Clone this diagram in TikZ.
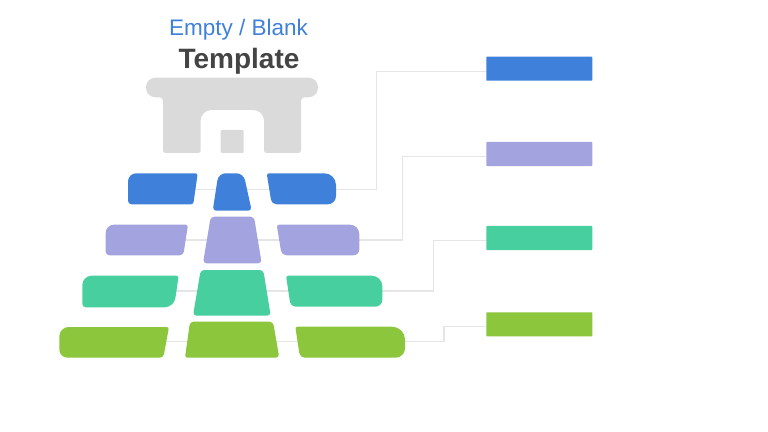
\documentclass[tikz,border=0pt]{standalone}
\usepackage{fontspec}
\setmainfont{Liberation Sans}
\definecolor{stepblue}{HTML}{3F80DB}
\definecolor{steppurple}{HTML}{A3A3DF}
\definecolor{stepteal}{HTML}{48CF9F}
\definecolor{steplime}{HTML}{8CC63C}
\definecolor{templegray}{HTML}{DADADA}
\definecolor{wiregray}{HTML}{E5E5E5}
\definecolor{titlegray}{HTML}{444444}
\tikzset{
  legendbar/.style={minimum width=90.4pt,minimum height=20.5pt,inner sep=0pt,rounded corners=0.5pt},
  wire/.style={draw=wiregray,line width=1pt}
}
\begin{document}
\begin{tikzpicture}[x=0.03cm,y=-0.03cm]
  \useasboundingbox (0,0) rectangle (768,432);
  \node (subtitle) at (238.5,29.5) {\color{stepblue}\fontsize{19.2}{23}\selectfont Empty / Blank};
  \node (title) at (239,61.5) {\color{titlegray}\fontsize{23.9}{27}\selectfont\bfseries Template};
  % temple on top
  \fill[templegray] (232,77.7) [rounded corners=8pt] -- (318,77.7) -- (318,97.3) [rounded corners=3pt] -- (301,97.3) [rounded corners=1.5pt] -- (301,153) -- (264,153) [rounded corners=9pt] -- (264,110) -- (200.7,110) [rounded corners=1.5pt] -- (200.7,153) -- (163,153) [rounded corners=3pt] -- (163,97.3) [rounded corners=8pt] -- (146,97.3) -- (146,77.7) [sharp corners] -- cycle;
  \fill[templegray,rounded corners=1pt] (220.7,130) rectangle (243.7,153);
  % legend and wires
  \foreach \name/\ybar/\xstart/\xelbow/\ywire in {stepblue/68.7/190/376.7/189.3,steppurple/154/180/402.7/240,stepteal/238/170/433.3/291,steplime/324.3/160/444/341.7} {
    \node[legendbar,fill=\name] (\name bar) at (539.3,\ybar) {};
    \coordinate (\name start) at (\xstart,\ywire);
    \coordinate (\name elbow) at (\xelbow,\ywire);
    \draw[wire] (\name start) -- (\name elbow) |- ([yshift=-2.2pt]\name bar.west);
  }
  % blocks of the pyramid
  \foreach \col/\ytop/\ybot/\tl/\tr/\br/\bl/\rtl/\rtr/\rbr/\rbl in {
    stepblue/173.3/204.3/128/197.7/193.3/128/7/2/2/3,
    stepblue/173.3/210.7/218.5/243.5/251.7/212.7/6/6/3/3,
    stepblue/173.3/204.3/266.7/336/336/271.7/2/10/7/4,
    steppurple/224.7/255.3/105.7/188/183.3/105.7/7/2/3/3,
    steppurple/216.7/263.3/210.7/254/261.7/203/3/3/3/3,
    steppurple/224.7/255.3/276.7/359.3/359.3/281.7/2/8/5/4,
    stepteal/275.7/307.3/82.3/178.7/174/82.3/8/2/8/3,
    stepteal/270/315.7/200.7/263.3/270.7/193/3/3/3/3,
    stepteal/275.7/306.7/286/382.3/382.3/290.7/2/9/6/4,
    steplime/327/357.7/59.3/169/163.3/59.3/8/2/3/7,
    steplime/321.7/357.7/190/273/279.3/185/3/3/3/2,
    steplime/326.7/357.7/295.3/405/405/300/2/11/8/4} {
    \fill[\col] ({(\tl+\tr)/2},\ytop) [rounded corners=\rtr pt] -- (\tr,\ytop) [rounded corners=\rbr pt] -- (\br,\ybot) [rounded corners=\rbl pt] -- (\bl,\ybot) [rounded corners=\rtl pt] -- (\tl,\ytop) [sharp corners] -- cycle;
  }
\end{tikzpicture}
\end{document}
